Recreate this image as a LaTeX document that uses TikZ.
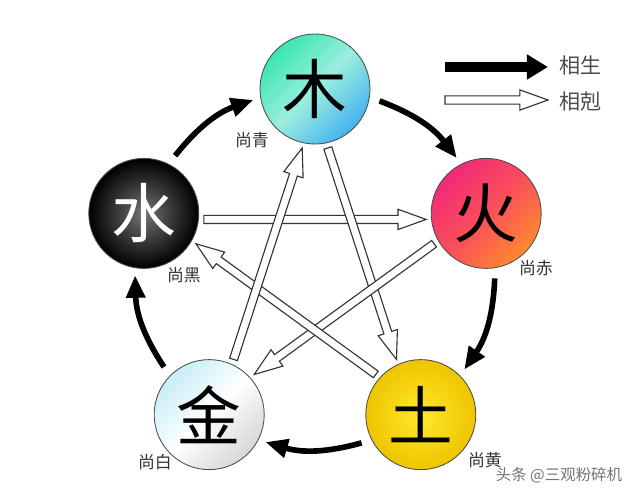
\documentclass[tikz,border=0pt]{standalone}
\usepackage{fontspec}
\newfontfamily\cjk{Noto Sans CJK SC}
\usetikzlibrary{arrows.meta,calc}
\definecolor{muA}{HTML}{3AE6B0}
\definecolor{muM}{HTML}{9BEEDD}
\definecolor{muB}{HTML}{45B2F0}
\definecolor{huoA}{HTML}{F02A78}
\definecolor{huoM}{HTML}{FA4E5A}
\definecolor{huoB}{HTML}{FF8A30}
\definecolor{tuA}{HTML}{FFEA2A}
\definecolor{tuB}{HTML}{EEC400}
\definecolor{jinA}{HTML}{C6EEF6}
\definecolor{jinB}{HTML}{D6D6D6}
\tikzset{
  wx/.style={circle,draw=black!70,line width=0.6pt,minimum size=2.75cm,inner sep=0pt,
    font=\cjk\fontsize{46}{46}\selectfont},
  sheng/.style={line width=4pt,-{Triangle[length=16pt,width=13pt]}},
  kearrow/.style={draw=black!80,fill=white,line width=0.8pt,line join=miter},
  lbl/.style={font=\cjk\fontsize{12}{12}\selectfont,text=black!80},
  lgd/.style={font=\cjk\fontsize{15}{15}\selectfont,text=black!70}
}
% hollow arrow: from, to, gap at the ends, shift to the right
\newcommand\kepath[4]{%
  \draw[kearrow] let \p1=(#1.center), \p2=(#2.center),
    \n1={atan2(\y2-\y1,\x2-\x1)}, \n2={veclen(\x2-\x1,\y2-\y1)} in
    (\p1) ++(\n1:#3) ++(\n1-90:#4) ++(\n1+90:2.9pt)
    -- ++(\n1:{\n2-2*#3-20pt}) -- ++(\n1+90:4.3pt)
    -- ++($(\n1:20pt)+(\n1-90:7.2pt)$) -- ++($(\n1+180:20pt)+(\n1-90:7.2pt)$)
    -- ++(\n1+90:4.3pt) -- ++(\n1+180:{\n2-2*#3-20pt}) -- cycle;
}
\begin{document}
\begin{tikzpicture}[x=0.025cm,y=0.025cm,line join=round]
\useasboundingbox (-315,-227) rectangle (325,269);
\node[wx,top color=muA,bottom color=muB,middle color=muM,shading angle=45] (mu) at (90:180) {木};
\node[wx,top color=huoA,bottom color=huoB,middle color=huoM,shading angle=45] (huo) at (18:180) {火};
\node[wx,inner color=tuA,outer color=tuB] (tu) at (-54:180) {土};
\node[wx,top color=jinA,bottom color=jinB,middle color=white,shading angle=45] (jin) at (-126:180) {金};
\node[wx,inner color=black!55,outer color=black,text=white] (shui) at (162:180) {水};
\node[lbl] (l-mu) at (-63,129) {尚青};
\node[lbl] (l-huo) at (221,1) {尚赤};
\node[lbl] (l-tu) at (170,-191) {尚黄};
\node[lbl] (l-jin) at (-160,-193) {尚白};
\node[lbl] (l-shui) at (-131,-6) {尚黑};
\foreach \a/\b [count=\i] in {90/18,18/-54,-54/-126,-126/-198,162/90}{
  \coordinate (s\i) at (\a-21:180);
  \coordinate (e\i) at (\b+20:180);
  \draw[sheng] (s\i) to[bend left=16] (e\i);
}
\kepath{shui}{huo}{42.7pt}{4.3pt}
\kepath{mu}{tu}{42.7pt}{4.3pt}
\kepath{huo}{jin}{42.7pt}{4.3pt}
\kepath{tu}{shui}{42.7pt}{4.3pt}
\kepath{jin}{mu}{42.7pt}{4.3pt}
% legend
\coordinate (sa) at (130,202);
\coordinate (sb) at (233,202);
\coordinate (ka) at (130,169);
\coordinate (kb) at (233,169);
\draw[sheng,line width=6.5pt,-{Triangle[length=15pt,width=17pt]}] (sa) -- (sb);
\kepath{ka}{kb}{0pt}{0pt}
\node[lgd] (t-sheng) at (266,204) {相生};
\node[lgd] (t-ke) at (266,167) {相剋};
\node[font=\cjk\fontsize{11}{11}\selectfont,text=black!55] (wm) at (244,-206) {头条 @三观粉碎机};
\end{tikzpicture}
\end{document}
